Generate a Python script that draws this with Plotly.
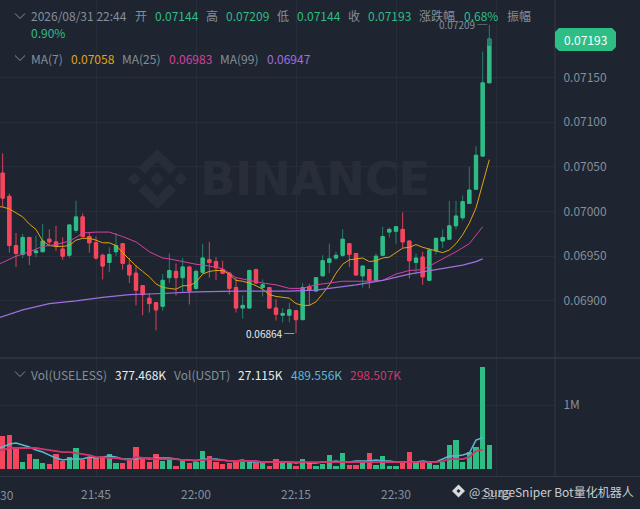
import pandas as pd
import plotly.graph_objects as go

# Candles, one per minute from 21:31 to 22:44
open_px = [0.07043, 0.07017, 0.06962, 0.06952, 0.06971, 0.06954, 0.06955, 0.06969, 0.06966, 0.06958,
           0.06951, 0.06979, 0.06994, 0.06972, 0.06965, 0.06951, 0.06943, 0.06955, 0.06964, 0.06940,
           0.06931, 0.06917, 0.06903, 0.06898, 0.06894, 0.06926, 0.06933, 0.06926, 0.06938, 0.06914,
           0.06932, 0.06946, 0.06944, 0.06935, 0.06931, 0.06915, 0.06892, 0.06892, 0.06935, 0.06915,
           0.06915, 0.06892, 0.06884, 0.06884, 0.06889, 0.06879, 0.06916, 0.06911, 0.06928, 0.06943,
           0.06948, 0.06951, 0.06964, 0.06953, 0.06928, 0.06935, 0.06923, 0.06951, 0.06977, 0.06978,
           0.06980, 0.06967, 0.06943, 0.06949, 0.06923, 0.06956, 0.06967, 0.06969, 0.06984, 0.06993,
           0.07009, 0.07025, 0.07062, 0.07144]
high_px = [0.07065, 0.07020, 0.06976, 0.06975, 0.06971, 0.06973, 0.06986, 0.06980, 0.06984, 0.06971,
           0.06985, 0.07012, 0.06998, 0.06976, 0.06972, 0.06953, 0.06960, 0.06976, 0.06964, 0.06948,
           0.06940, 0.06917, 0.06908, 0.06898, 0.06930, 0.06953, 0.06942, 0.06948, 0.06938, 0.06935,
           0.06964, 0.06966, 0.06949, 0.06945, 0.06932, 0.06926, 0.06906, 0.06935, 0.06936, 0.06924,
           0.06915, 0.06902, 0.06892, 0.06898, 0.06889, 0.06920, 0.06919, 0.06926, 0.06951, 0.06964,
           0.06955, 0.06980, 0.06964, 0.06953, 0.06939, 0.06935, 0.06953, 0.06983, 0.06982, 0.06983,
           0.06999, 0.06967, 0.06953, 0.06955, 0.06959, 0.06970, 0.06980, 0.07012, 0.07012, 0.07018,
           0.07050, 0.07073, 0.07179, 0.07209]
low_px = [0.07005, 0.06954, 0.06938, 0.06948, 0.06940, 0.06949, 0.06955, 0.06961, 0.06956, 0.06946,
          0.06948, 0.06976, 0.06971, 0.06954, 0.06946, 0.06924, 0.06932, 0.06950, 0.06935, 0.06920,
          0.06895, 0.06884, 0.06887, 0.06867, 0.06889, 0.06920, 0.06906, 0.06910, 0.06896, 0.06912,
          0.06930, 0.06926, 0.06923, 0.06930, 0.06907, 0.06887, 0.06880, 0.06892, 0.06919, 0.06905,
          0.06892, 0.06878, 0.06876, 0.06876, 0.06864, 0.06879, 0.06895, 0.06911, 0.06928, 0.06931,
          0.06946, 0.06949, 0.06938, 0.06929, 0.06915, 0.06914, 0.06923, 0.06951, 0.06971, 0.06964,
          0.06959, 0.06925, 0.06930, 0.06918, 0.06923, 0.06952, 0.06959, 0.06969, 0.06980, 0.06990,
          0.07009, 0.07025, 0.07062, 0.07144]
close_px = [0.07015, 0.06962, 0.06953, 0.06971, 0.06951, 0.06956, 0.06967, 0.06966, 0.06961, 0.06950,
            0.06985, 0.06994, 0.06972, 0.06965, 0.06948, 0.06939, 0.06952, 0.06962, 0.06942, 0.06929,
            0.06912, 0.06907, 0.06897, 0.06890, 0.06923, 0.06934, 0.06926, 0.06938, 0.06911, 0.06933,
            0.06948, 0.06943, 0.06937, 0.06931, 0.06914, 0.06892, 0.06895, 0.06934, 0.06920, 0.06918,
            0.06892, 0.06885, 0.06886, 0.06890, 0.06879, 0.06915, 0.06912, 0.06926, 0.06945, 0.06947,
            0.06951, 0.06969, 0.06952, 0.06929, 0.06939, 0.06923, 0.06950, 0.06972, 0.06980, 0.06983,
            0.06966, 0.06945, 0.06948, 0.06927, 0.06957, 0.06970, 0.06971, 0.06984, 0.06995, 0.07011,
            0.07024, 0.07063, 0.07144, 0.07193]
# top part of the last body is drawn darker in the picture
last_dim_from = 0.07186

# Volume per candle
volume = [515000, 530000, 343000, 109000, 234000, 156000, 94000, 78000, 234000, 125000,
          187000, 328000, 140000, 187000, 187000, 172000, 234000, 94000, 94000, 140000,
          343000, 156000, 109000, 234000, 125000, 140000, 47000, 125000, 94000, 109000,
          281000, 203000, 109000, 78000, 94000, 140000, 109000, 109000, 94000, 94000,
          47000, 156000, 109000, 109000, 47000, 156000, 94000, 47000, 78000, 218000,
          47000, 250000, 62000, 62000, 94000, 250000, 62000, 203000, 47000, 47000,
          94000, 265000, 109000, 109000, 109000, 62000, 109000, 374000, 452000, 109000,
          265000, 343000, 1591000, 377468]

# Moving averages start one minute earlier, at 21:30, because the line runs off the left edge
ma7 = [0.07006, 0.07005, 0.07003, 0.06998, 0.06994, 0.06986, 0.06980, 0.06967, 0.06962, 0.06961, 0.06961,
       0.06962, 0.06968, 0.06970, 0.06970, 0.06968, 0.06965, 0.06965, 0.06962, 0.06954, 0.06946,
       0.06939, 0.06933, 0.06927, 0.06919, 0.06915, 0.06914, 0.06913, 0.06917, 0.06917, 0.06921,
       0.06930, 0.06933, 0.06934, 0.06934, 0.06930, 0.06923, 0.06922, 0.06920, 0.06917, 0.06913,
       0.06907, 0.06905, 0.06904, 0.06903, 0.06897, 0.06895, 0.06895, 0.06899, 0.06908, 0.06918,
       0.06931, 0.06941, 0.06946, 0.06947, 0.06948, 0.06944, 0.06945, 0.06948, 0.06949, 0.06954,
       0.06959, 0.06960, 0.06963, 0.06960, 0.06958, 0.06956, 0.06954, 0.06957, 0.06964, 0.06974,
       0.06987, 0.07004, 0.07030, 0.07058]
ma25_min = [-1, 0, 2, 4, 6, 8, 10, 11, 12, 14, 16, 18, 20, 22, 24, 25, 27, 29, 31, 33, 35, 37, 39, 41, 43,
            45, 47, 49, 51, 53, 55, 57, 59, 61, 63, 64, 66, 68, 70, 71, 72]
ma25 = [0.06940, 0.06943, 0.06950, 0.06955, 0.06961, 0.06963, 0.06967, 0.06971, 0.06976, 0.06977, 0.06977,
        0.06972, 0.06966, 0.06955, 0.06948, 0.06947, 0.06944, 0.06941, 0.06939, 0.06936, 0.06926, 0.06923,
        0.06920, 0.06918, 0.06914, 0.06914, 0.06918, 0.06920, 0.06922, 0.06922, 0.06922, 0.06923, 0.06930,
        0.06934, 0.06935, 0.06939, 0.06947, 0.06955, 0.06964, 0.06974, 0.06983]
ma99_min = [-1, 3, 7, 11, 15, 19, 23, 29, 35, 43, 47, 53, 57, 61, 65, 69, 71, 72]
ma99 = [0.06880, 0.06890, 0.06897, 0.06900, 0.06904, 0.06907, 0.06908, 0.06910, 0.06911, 0.06911, 0.06912,
        0.06918, 0.06923, 0.06930, 0.06935, 0.06940, 0.06944, 0.06947]

vol_ma5 = [312000, 343000, 390000, 406000, 374000, 343000, 296000, 265000, 218000, 172000, 140000,
           156000, 156000, 156000, 187000, 172000, 187000, 203000, 187000, 156000, 156000,
           156000, 172000, 156000, 172000, 172000, 172000, 156000, 140000, 140000, 125000,
           156000, 156000, 156000, 140000, 125000, 125000, 140000, 109000, 109000, 109000,
           109000, 109000, 109000, 109000, 94000, 109000, 94000, 94000, 109000, 109000,
           125000, 109000, 109000, 125000, 125000, 125000, 140000, 125000, 125000, 109000,
           109000, 109000, 109000, 125000, 109000, 109000, 156000, 203000, 203000, 218000,
           250000, 452000, 489556]
vol_ma10 = [281000, 296000, 328000, 328000, 328000, 328000, 328000, 312000, 296000, 281000, 265000,
            265000, 250000, 234000, 218000, 187000, 187000, 172000, 172000, 156000, 140000,
            187000, 172000, 172000, 156000, 156000, 156000, 156000, 140000, 140000, 140000,
            140000, 156000, 140000, 140000, 125000, 125000, 125000, 125000, 125000, 109000,
            109000, 109000, 109000, 109000, 109000, 109000, 109000, 109000, 109000, 109000,
            109000, 109000, 109000, 109000, 109000, 109000, 109000, 109000, 109000, 109000,
            109000, 109000, 109000, 109000, 109000, 109000, 125000, 156000, 156000, 156000,
            187000, 281000, 298507]

y_ticks = [0.069, 0.0695, 0.07, 0.0705, 0.071, 0.0715]
vol_ticks = [1000000]
vol_tick_text = ["1M"]
time_ticks = ["21:45", "22:00", "22:15", "22:30", "22:45"]

BG = "#1e2530"
GRID = "#272e39"
EDGE = "#323944"
GREEN = "#2ebd85"
GREEN_DIM = "#25806a"
RED = "#f6465d"
RED_WICK = "#d9415a"
GRAY = "#848e9c"
WHITE = "#eaecef"
FONT = "Noto Sans CJK SC"
MARK = "#282e39"

# the plot area covers 555x476 of the page, the rest is axis labels
PLOT_W = 555
PLOT_H = 476


def px(x):
    return x / PLOT_W


def py(y):
    return 1 - y / PLOT_H


def path_px(points):
    # page pixels to a closed paper path
    parts = [f"{px(x):.5f},{py(y):.5f}" for x, y in points]
    return "M" + " L".join(parts) + " Z"


def label(x, y, text, color=GRAY, size=12, anchor="left", family=FONT):
    # annotations keep about 2px of padding, take it off for left aligned text
    if anchor == "left":
        x = x - 2
    fig.add_annotation(x=px(x), y=py(y), xref="paper", yref="paper", text=text, showarrow=False,
                       xanchor=anchor, yanchor="middle", font=dict(color=color, size=size, family=family))


def diamond(cx, cy, r, color):
    fig.add_shape(type="path", xref="paper", yref="paper", layer="below", line_width=0, fillcolor=color,
                  path=path_px([(cx, cy - r), (cx + r, cy), (cx, cy + r), (cx - r, cy)]))


def chevron(x, y):
    fig.add_shape(type="path", xref="paper", yref="paper", line=dict(color=GRAY, width=1),
                  path=f"M{px(x - 5):.5f},{py(y - 2.5):.5f} L{px(x):.5f},{py(y + 2.5):.5f} L{px(x + 5):.5f},{py(y - 2.5):.5f}")


def candles(x, o, h, l, c, up_line, down_line):
    return go.Candlestick(x=x, open=o, high=h, low=l, close=c, whiskerwidth=0,
                          increasing=dict(line=dict(color=up_line, width=1), fillcolor=up_line),
                          decreasing=dict(line=dict(color=down_line, width=1), fillcolor=down_line))


times = pd.date_range("2026-08-31 21:30", periods=75, freq="min")
candle_times = times[1:]
vol_colors = [GREEN if c >= o else RED for o, c in zip(open_px, close_px)]
body_top = [max(o, c) for o, c in zip(open_px, close_px)]
body_bottom = [min(o, c) for o, c in zip(open_px, close_px)]

fig = go.Figure()

# Binance watermark behind the candles
mark_cx, mark_cy = 157.3, 179
diamond(mark_cx, mark_cy, 7, MARK)
diamond(mark_cx - 23, mark_cy, 6.5, MARK)
diamond(mark_cx + 23.5, mark_cy, 6.5, MARK)
for s in (1, -1):
    chevron_pts = [(0, -30), (19, -11.5), (12.5, -5), (0, -17.5), (-12.5, -5), (-19, -11.5)]
    fig.add_shape(type="path", xref="paper", yref="paper", layer="below", line_width=0, fillcolor=MARK,
                  path=path_px([(mark_cx + dx, mark_cy + s * dy) for dx, dy in chevron_pts]))
label(200, 179, "<b>BINANCE</b>", MARK, 46, family="DejaVu Sans")

fig.add_trace(go.Bar(x=candle_times, y=volume, marker_color=vol_colors, marker_line_width=0,
                     width=50000, yaxis="y2", name="Vol"))
fig.add_trace(go.Scatter(x=times, y=vol_ma5, mode="lines", line=dict(color="#5cb8d6", width=1.5), yaxis="y2",
                         name="Vol MA5"))
fig.add_trace(go.Scatter(x=times, y=vol_ma10, mode="lines", line=dict(color="#d6336c", width=1.8), yaxis="y2",
                         name="Vol MA10"))

# wicks first in their duller colours, then the bodies over them
fig.add_trace(candles(candle_times, open_px, high_px, low_px, close_px, GREEN_DIM, RED_WICK))
fig.add_trace(candles(candle_times, open_px, body_top, body_bottom, close_px, GREEN, RED))
fig.add_trace(candles(candle_times[-1:], [last_dim_from], [close_px[-1]], [last_dim_from], [close_px[-1]],
                      GREEN_DIM, GREEN_DIM))

fig.add_trace(go.Scatter(x=times, y=ma7, mode="lines", line=dict(color="#e0a50e", width=1), name="MA(7)"))
fig.add_trace(go.Scatter(x=[times[i + 1] for i in ma25_min], y=ma25, mode="lines",
                         line=dict(color="#d63fa6", width=1), name="MA(25)"))
fig.add_trace(go.Scatter(x=[times[i + 1] for i in ma99_min], y=ma99, mode="lines",
                         line=dict(color="#a06fe0", width=1.2), name="MA(99)"))

# pane borders
fig.add_shape(type="line", xref="paper", yref="paper", x0=0, x1=640 / PLOT_W, y0=py(358), y1=py(358),
              line=dict(color=EDGE, width=1.5))
fig.add_shape(type="line", xref="paper", yref="paper", x0=0, x1=640 / PLOT_W, y0=py(476.5), y1=py(476.5),
              line=dict(color=EDGE, width=1))
fig.add_shape(type="line", xref="paper", yref="paper", x0=1, x1=1, y0=py(0), y1=py(476),
              line=dict(color=EDGE, width=1))

# last price tag
x0, x1, y0, y1, r = 555, 616, 28, 51, 4
fig.add_shape(type="path", xref="paper", yref="paper", line_width=0, fillcolor=GREEN,
              path=path_px([(x0 + r, y0), (x1 - r, y0), (x1, y0 + r), (x1, y1 - r), (x1 - r, y1),
                            (x0 + r, y1), (x0, y1 - r), (x0, y0 + r)]))
label(585.5, 39.5, "0.07193", "#ffffff", 12, "center")

# header rows
chevron(20, 16)
row1 = [(31, "2026/08/31 22:44", GRAY), (135, "开", GRAY), (155, "0.07144", GREEN), (206, "高", GRAY),
        (226, "0.07209", GREEN), (277, "低", GRAY), (297, "0.07144", GREEN), (348, "收", GRAY),
        (368, "0.07193", GREEN), (419, "涨跌幅", GRAY), (464, "0.68%", GREEN), (507, "振幅", GRAY)]
for x, text, color in row1:
    label(x, 16, text, color)
label(31, 32.5, "0.90%", GREEN)

chevron(20, 58)
row2 = [(31, "MA(7)", GRAY), (71, "0.07058", "#e0a50e"), (122, "MA(25)", GRAY), (169, "0.06983", "#d63fa6"),
        (220, "MA(99)", GRAY), (267, "0.06947", "#a06fe0")]
for x, text, color in row2:
    label(x, 58.5, text, color)

chevron(20, 374)
row3 = [(31, "Vol(USELESS)", GRAY), (115, "377.468K", WHITE), (174, "Vol(USDT)", GRAY), (238, "27.115K", WHITE),
        (291, "489.556K", "#5cb8d6"), (350, "298.507K", "#d6336c")]
for x, text, color in row3:
    label(x, 374.5, text, color)

# high and low tags
fig.add_annotation(x=candle_times[-1], y=max(high_px), text="0.07209 ─", showarrow=False, xanchor="right",
                   yanchor="middle", font=dict(color=GRAY, size=10, family=FONT))
fig.add_annotation(x=candle_times[44], y=min(low_px), text="0.06864 ─", showarrow=False, xanchor="right",
                   yanchor="middle", font=dict(color=WHITE, size=10, family=FONT))

# only the end of the 21:30 label is on the page
label(0, 494, "30", GRAY, 12)

# bottom right signature
diamond(458.5, 491, 6.5, "#d8dade")
diamond(458.5, 491, 2, BG)
label(469, 491, "@ SurgeSniper Bot量化机器人", "#c9ccd1", 12)

fig.update_layout(
    width=640, height=509, margin=dict(l=0, r=85, t=0, b=33),
    paper_bgcolor=BG, plot_bgcolor=BG, showlegend=False, bargap=0, boxgap=0.3, boxmode="overlay",
    font=dict(family=FONT, size=12, color=GRAY),
    xaxis=dict(type="date", anchor="y2", range=["2026-08-31 21:30:36", "2026-08-31 22:53:51"],
               rangeslider_visible=False,
               tickvals=[f"2026-08-31 {t}" for t in time_ticks], ticktext=time_ticks,
               showgrid=True, gridcolor=GRID, gridwidth=1, zeroline=False, showline=False,
               ticks="outside", ticklen=8, tickcolor="rgba(0,0,0,0)", tickangle=0),
    yaxis=dict(domain=[1 - 358 / PLOT_H, 1], range=[0.068361, 0.072367], side="right",
               tickvals=y_ticks, tickformat=".5f", showgrid=True, gridcolor=GRID, zeroline=False,
               ticks="outside", ticklen=5, tickcolor="rgba(0,0,0,0)"),
    yaxis2=dict(domain=[0, 1 - 358 / PLOT_H], range=[-109000, 1734000], side="right", anchor="x",
                tickvals=vol_ticks, ticktext=vol_tick_text, showgrid=True, gridcolor=GRID, zeroline=False,
                ticks="outside", ticklen=5, tickcolor="rgba(0,0,0,0)"),
)

# the browser's default body margin would push the 640x509 figure off the window
fig.write_html("out.html", config={"displayModeBar": False},
               post_script="document.body.style.margin = '0';")
